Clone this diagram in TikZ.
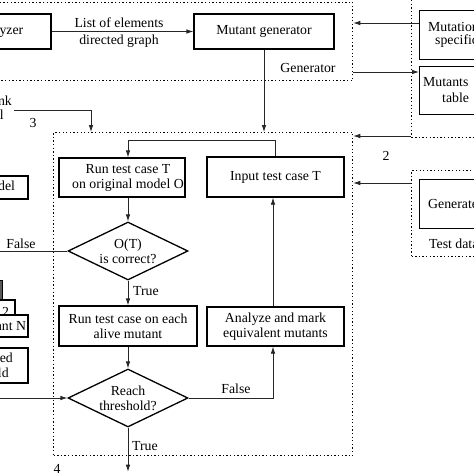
\documentclass[tikz,border=0pt]{standalone}
\usepackage{fontspec}
\setmainfont{Liberation Serif}
\usetikzlibrary{shapes.geometric,arrows.meta,calc}
\begin{document}
\begin{tikzpicture}[x=1pt,y=-1pt,
  font=\fontsize{13.8pt}{15pt}\selectfont,
  box/.style={draw=black, line width=1.3pt, fill=white, align=center, inner sep=1pt},
  dec/.style={diamond, draw=black, line width=1.3pt, fill=white, align=center, inner sep=0pt, aspect=2.07, minimum width=120pt, minimum height=58pt},
  dotbox/.style={draw=black, line width=1.3pt, dash pattern=on 1.3pt off 2.3pt, inner sep=0pt},
  conn/.style={draw=black!85, line width=0.8pt, -{Latex[length=7pt,width=4.6pt]}},
  txt/.style={inner sep=0pt},
]
\useasboundingbox (0,0) rectangle (474,474);
\clip (0,0) rectangle (474,474);
\fill[white] (0,0) rectangle (474,474);

% dotted containers
\node[dotbox, minimum width=452pt, minimum height=78.5pt, anchor=north west] (genbox) at (-100,1.5) {};
\node[dotbox, minimum width=120pt, minimum height=188pt, anchor=south west] (rightcont) at (411,138) {};
\node[dotbox, minimum width=299pt, minimum height=323pt, anchor=north west] (testbox) at (53,132) {};
\node[dotbox, minimum width=120pt, minimum height=86pt, anchor=north west] (tdcont) at (411,170) {};

% generator part
\node[box, minimum width=106pt, minimum height=35pt] (analyzer) at (-2,31.5) {Analyzer};
\node[box, minimum width=140pt, minimum height=35pt] (mutgen) at (264,31.5) {Mutant generator};
\node[txt, anchor=base] (lst) at (119,27) {List of elements};
\node[txt, anchor=base] (dgr) at (119,44) {directed graph};
\node[txt, anchor=base] (genlbl) at (308,72) {Generator};

% right column
\node[box, minimum width=130pt, minimum height=49pt, anchor=north west] (mutspec) at (419,10) {};
\node[txt, anchor=base west] (mutspec1) at (428,31) {Mutation};
\node[txt, anchor=base west] (mutspec2) at (435,44) {specification};
\node[box, minimum width=130pt, minimum height=48pt, anchor=north west] (mtab) at (419,66) {};
\node[txt, anchor=base west] (mtab1) at (423,86) {Mutants};
\node[txt, anchor=base west] (mtab2) at (442,102) {table};
\node[box, minimum width=130pt, minimum height=49pt, anchor=north west] (gen) at (419,179) {};
\node[txt, anchor=base west] (gen1) at (428,208) {Generate};
\node[txt, anchor=base west] (tdlbl) at (429,248) {Test data};

% left column
\node[txt, anchor=base east] (sim1) at (12,105) {Simulink};
\node[txt, anchor=base east] (sim2) at (4,119) {model};
\node[box, minimum width=110pt, minimum height=23pt] (orig) at (-27,187.5) {Original model};
\node[box, fill=black!65, minimum width=60pt, minimum height=40pt, anchor=north east] (mut1) at (3,280) {};
\node[box, minimum width=62pt, minimum height=24pt] (mut2) at (-16,312) {Mutant 2};
\node[box, minimum width=57.2pt, minimum height=22pt] (mutN) at (-0.6,326) {Mutant N};
\node[box, minimum width=90pt, minimum height=35pt] (pred) at (-17,365.5) {Predefined\\threshold};

% test part
\node[box, minimum width=126pt, minimum height=39pt] (run) at (122,177.5) {\hspace*{12pt}Run test case T\\\hspace*{12pt}on original model O};
\node[box, minimum width=137pt, minimum height=40pt] (input) at (275.5,177) {Input test case T};
\node[dec] (otc) at (128,251) {O(T)\\is correct?};
\node[box, minimum width=138pt, minimum height=40pt] (runeach) at (128,326) {Run test case on each\\alive mutant};
\node[box, minimum width=137pt, minimum height=39pt] (analyze) at (275.5,326.5) {Analyze and mark\\equivalent mutants};
\node[dec] (reach) at (128,398) {Reach\\threshold?};

% numbers and labels
\node[txt, anchor=base] (n3) at (33,127) {3};
\node[txt, anchor=base] (n2) at (386,160) {2};
\node[txt, anchor=base] (n4) at (57,473) {4};
\node[txt, anchor=base] (f1) at (21,248) {False};
\node[txt, anchor=base west] (t1) at (133,295) {True};
\node[txt, anchor=base] (f2) at (236,393) {False};
\node[txt, anchor=base west] (t2) at (132,450) {True};

% connectors
\draw[conn] (analyzer.east) -- (mutgen.west);
\draw[conn] (mutgen.south) -- (mutgen.south |- testbox.north);
\coordinate (ms) at ($(mutspec.north west)+(0,13)$);
\draw[conn] (ms) -- (ms -| genbox.east);
\coordinate (mt) at ($(mtab.north west)+(0,6)$);
\draw[conn] (mt -| genbox.east) -- (mt);
\coordinate (rc) at ($(rightcont.south west)+(0,-2)$);
\draw[conn] (rc) -- (rc -| testbox.east);
\coordinate (td) at ($(tdcont.north west)+(0,13)$);
\draw[conn] (td) -- (td -| testbox.east);
\coordinate (simout) at (14,110);
\coordinate (c3) at (91,110);
\draw[conn] (simout) -- (c3) -- (c3 |- testbox.north);
\draw[conn] (input.north) -- ++(0,-16) -| (run.north -| otc.north);
\draw[conn] (run.south -| otc.north) -- (otc.north);
\draw[conn] (otc.south) -- (runeach.north);
\draw[conn] (otc.west) -- ($(otc.west)+(-100,0)$);
\draw[conn] (runeach.south) -- (reach.north);
\draw[conn] ($(reach.west)+(-100,0)$) -- (reach.west);
\draw[conn] (reach.east) -| ([xshift=-2.5pt]analyze.south);
\draw[conn] ([xshift=-2.5pt]analyze.north) -- ([xshift=-2.5pt]input.south);
\draw[conn] (reach.south) -- ++(0,44);
\end{tikzpicture}
\end{document}
